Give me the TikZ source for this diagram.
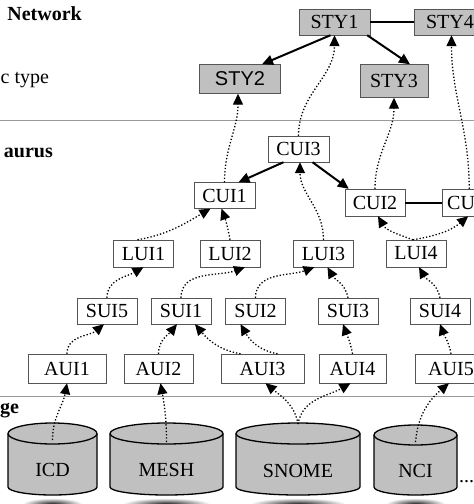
\documentclass[tikz,border=0pt]{standalone}
\usepackage{fontspec}
\setmainfont{Liberation Serif}
\newfontfamily\stysans{Liberation Sans}
\usetikzlibrary{arrows.meta, calc}
\definecolor{umgray}{HTML}{C0C0C0}
\definecolor{umline}{HTML}{555555}
\definecolor{umsep}{HTML}{9A9A9A}
\tikzset{
  sty/.style={rectangle, draw=umline, fill=umgray, text=black,
              font=\fontsize{20}{24}\selectfont, inner sep=2pt, minimum height=26pt},
  cui/.style={rectangle, draw=umline, fill=white, text=black,
              font=\fontsize{20}{24}\selectfont, inner sep=2pt, minimum width=60pt, minimum height=26pt},
  cyl/.style={draw=black, line width=1.3pt, fill=umgray},
  cylfront/.style={draw=black, line width=1.3pt},
  cylshadow/.style={inner color=black!90, outer color=white},
  src/.style={font=\fontsize{20}{24}\selectfont, inner sep=1pt},
  rel/.style={-{Triangle[length=11pt,width=10pt]}, line width=2pt},
  link/.style={line width=2pt},
  map/.style={-{Triangle[length=11pt,width=10pt]}, dotted, line width=1.3pt},
  sep/.style={draw=umsep, line width=1pt},
  lbl/.style={font=\fontsize{20}{24}\selectfont, anchor=base east, inner sep=0pt},
}
\begin{document}
\begin{tikzpicture}[x=1pt,y=-1pt]
  \useasboundingbox (0,0) rectangle (474,504);
  % layer separators and side labels
  \draw[sep] (0,120) -- (474,120);
  \draw[sep] (0,396) -- (474,396);
  \node[lbl] (netlbl)  at (82,20)  {\textbf{Network}};
  \node[lbl, anchor=base west] (typelbl) at (0.5,83) {c type};
  \node[lbl] (thlbl)   at (53,157) {\textbf{aurus}};
  \node[lbl, anchor=base west] (srclbl)  at (0,413) {\textbf{ge}};
  % semantic types
  \node[sty, minimum width=71pt] (sty1) at (334.5,22) {STY1};
  \node[sty, minimum width=71pt] (sty4) at (450,22) {STY4};
  \node[sty, minimum width=81pt, minimum height=29pt, font=\fontsize{20}{24}\selectfont\stysans] (sty2) at (240,79) {STY2};
  \node[sty, minimum width=68pt, minimum height=33pt] (sty3) at (394,81) {STY3};
  % concepts, terms, strings, atoms
  \node[cui, minimum width=61pt] (cui3) at (298.5,149) {CUI3};
  \node[cui, minimum width=61pt] (cui1) at (224.5,195.5) {CUI1};
  \node[cui, minimum height=27pt] (cui2) at (375,202.5) {CUI2};
  \node[cui, minimum height=27pt, anchor=west, inner xsep=5pt, text width=50pt, align=left] (cu4) at (442,202.5) {CU};
  \node[cui, minimum height=27pt] (lui1) at (143.5,253.5) {LUI1};
  \node[cui, minimum height=27pt] (lui2) at (230,253.5) {LUI2};
  \node[cui, minimum height=27pt] (lui3) at (323.5,253.5) {LUI3};
  \node[cui, minimum height=27pt] (lui4) at (416,253.5) {LUI4};
  \node[cui] (sui5) at (107,311) {SUI5};
  \node[cui] (sui1) at (181,311) {SUI1};
  \node[cui] (sui2) at (255.5,311) {SUI2};
  \node[cui] (sui3) at (348,311) {SUI3};
  \node[cui] (sui4) at (440,311) {SUI4};
  \node[cui, minimum width=78pt, minimum height=29pt] (aui1) at (67,368.5) {AUI1};
  \node[cui, minimum width=69pt, minimum height=29pt] (aui2) at (158.5,368.5) {AUI2};
  \node[cui, minimum width=83pt, minimum height=29pt] (aui3) at (262.5,368.5) {AUI3};
  \node[cui, minimum width=67pt, minimum height=29pt] (aui4) at (352.5,368.5) {AUI4};
  \node[cui, minimum width=72pt, minimum height=29pt] (aui5) at (451,368.5) {AUI5};
  % sources
  \shade[cylshadow] (52.5,504) ellipse (30 and 6);
  \shade[cylshadow] (166.5,504) ellipse (44 and 6);
  \shade[cylshadow] (298,504) ellipse (48 and 6);
  \shade[cylshadow] (415.5,504) ellipse (30 and 6);
  \filldraw[cyl] (8,433.5) -- (8,487) arc[start angle=180, end angle=360, x radius=44.5pt, y radius=8pt]
    -- (97,433.5) arc[start angle=0, end angle=180, x radius=44.5pt, y radius=10.5pt] -- cycle;
  \draw[cylfront] (8,433.5) arc[start angle=180, end angle=360, x radius=44.5pt, y radius=10.5pt];
  \filldraw[cyl] (110,433.5) -- (110,487) arc[start angle=180, end angle=360, x radius=56.5pt, y radius=8pt]
    -- (223,433.5) arc[start angle=0, end angle=180, x radius=56.5pt, y radius=10.5pt] -- cycle;
  \draw[cylfront] (110,433.5) arc[start angle=180, end angle=360, x radius=56.5pt, y radius=10.5pt];
  \filldraw[cyl] (236,433.5) -- (236,487) arc[start angle=180, end angle=360, x radius=62pt, y radius=8pt]
    -- (360,433.5) arc[start angle=0, end angle=180, x radius=62pt, y radius=10.5pt] -- cycle;
  \draw[cylfront] (236,433.5) arc[start angle=180, end angle=360, x radius=62pt, y radius=10.5pt];
  \filldraw[cyl] (374,435) -- (374,487) arc[start angle=180, end angle=360, x radius=41.5pt, y radius=8pt]
    -- (457,435) arc[start angle=0, end angle=180, x radius=41.5pt, y radius=10pt] -- cycle;
  \draw[cylfront] (374,435) arc[start angle=180, end angle=360, x radius=41.5pt, y radius=10pt];
  \node[src] (icd)   at (52.5,470)  {ICD};
  \node[src] (mesh)  at (166.5,470) {MESH};
  \node[src] (snome) at (298,471)   {SNOME};
  \node[src] (nci)   at (415.5,471) {NCI};
  \node[lbl, anchor=base west] (more) at (459,482) {...};
  % relations
  \draw[link] (sty1) -- (sty4);
  \draw[rel] ([xshift=-4pt]sty1.south) -- ([xshift=22pt]sty2.north);
  \draw[rel] ([xshift=-3pt]sty1.south east) -- ([xshift=16pt]sty3.north);
  \draw[rel] ([xshift=-15pt]cui3.south) -- ([xshift=14pt]cui1.north);
  \draw[rel] ([xshift=14pt]cui3.south) -- ([xshift=4pt]cui2.north west);
  \draw[link] (cui2) -- (cu4);
  % mappings
  \draw[map] (cui3.north) to[out=90,in=-90] (sty1.south);
  \draw[map] (cui1.north) to[out=90,in=-90] ([xshift=-2pt]sty2.south);
  \draw[map] (cui2.north) to[out=90,in=-90] (sty3.south);
  \draw[map] ([xshift=-3pt]cu4.north) to[out=90,in=-90] ([xshift=1.5pt]sty4.south);
  \draw[map] ([xshift=-6pt]lui1.north) to[out=10,in=-150] ([xshift=-14pt]cui1.south);
  \draw[map] (lui2.north) to[out=100,in=-70] ([xshift=-3pt]cui1.south);
  \draw[map] (lui3.north) to[out=90,in=-90] ([xshift=1.5pt]cui3.south);
  \draw[map] ([xshift=-3pt]lui4.north) to[out=160,in=-60] ([xshift=3pt]cui2.south);
  \draw[map] ([xshift=-3pt]lui4.north) to[out=10,in=-140] ([xshift=-4pt]cu4.south);
  \draw[map] (sui5.north) to[out=90,in=-150] (lui1.south);
  \draw[map] (sui1.north) to[out=90,in=-160] ([xshift=15pt]lui2.south);
  \draw[map] (sui2.north) to[out=90,in=-160] ([xshift=-9pt]lui3.south);
  \draw[map] (sui3.north) to[out=100,in=-60] ([xshift=4pt]lui3.south);
  \draw[map] (sui4.north) to[out=100,in=-60] ([xshift=3pt]lui4.south);
  \draw[map] (aui1.north) to[out=90,in=-140] ([xshift=-3pt]sui5.south);
  \draw[map] (aui2.north) to[out=90,in=-130] ([xshift=-4pt]sui1.south);
  \draw[map] ([xshift=-22pt]aui3.north) to[out=170,in=-50] ([xshift=14pt]sui1.south);
  \draw[map] ([xshift=15pt]aui3.north) to[out=170,in=-60] ([xshift=-15pt]sui2.south);
  \draw[map] (aui4.north) to[out=100,in=-70] ([xshift=-5pt]sui3.south);
  \draw[map] (aui5.north) to[out=100,in=-70] (sui4.south);
  \draw[map] ([yshift=30pt]icd.center) to[out=90,in=-100] (aui1.south);
  \draw[map] ([yshift=28pt]mesh.center) to[out=90,in=-80] ([xshift=2pt]aui2.south);
  \draw[map] ([yshift=47pt]snome.center) to[out=100,in=-40] ([xshift=3pt]aui3.south);
  \draw[map] ([yshift=47pt]snome.center) to[out=80,in=-150] ([xshift=-2pt]aui4.south);
  \draw[map] ([yshift=29pt]nci.center) to[out=85,in=-140] ([xshift=-2pt]aui5.south);
\end{tikzpicture}
\end{document}
